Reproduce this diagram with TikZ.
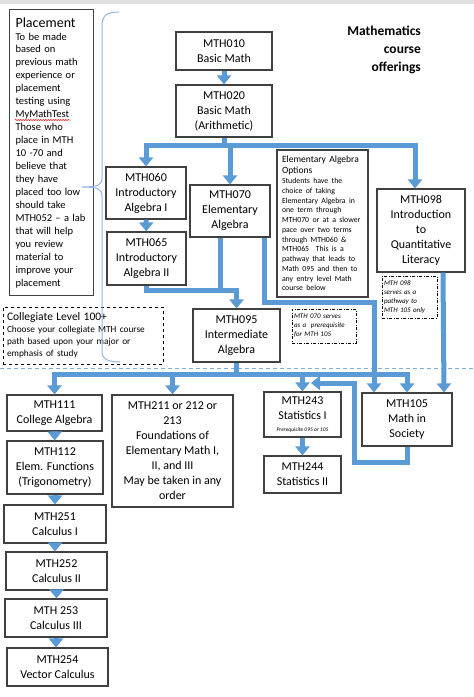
\documentclass[tikz,border=0pt]{standalone}
\usepackage{fontspec}
\setmainfont{Carlito}
\usetikzlibrary{arrows.meta,decorations.pathmorphing}
\definecolor{flowblue}{HTML}{5B9BD5}
\definecolor{boxgray}{HTML}{404040}
\definecolor{bracecol}{HTML}{8EB4E3}
\begin{document}
\begin{tikzpicture}[x=1pt,y=-1pt,
  box/.style={draw=boxgray, line width=1.1pt, fill=white, align=center, inner sep=1pt, font=\fontsize{12}{15}\selectfont},
  leftbox/.style={draw=boxgray, line width=1.1pt, fill=white, align=left, inner sep=3pt},
  notebox/.style={draw=black, line width=0.6pt, dash pattern=on 3pt off 1.5pt on 1pt off 1.5pt, align=left, inner sep=2pt, font=\itshape\fontsize{7}{9}\selectfont},
  flowline/.style={draw=flowblue, line width=5pt},
  arr/.style={draw=flowblue, line width=5pt, -{Triangle[width=14pt,length=9pt]}},
  bracestyle/.style={draw=bracecol, line width=1pt}
]
\useasboundingbox (0,0) rectangle (474,697);
\fill[white] (0,0) rectangle (474,697);
\fill[gray!25] (0,0) rectangle (474,4);

% title
\node[anchor=north east, align=right, inner sep=0pt, font=\bfseries\fontsize{13.5}{18}\selectfont] (title) at (421,26) {Mathematics\\course\\offerings};

% placement
\node[leftbox, inner xsep=6pt, text width=72pt, minimum height=286pt, anchor=north west] (place) at (9,9) {%
{\fontsize{14}{15}\selectfont Placement\par}%
{\fontsize{10.5}{12.95}\selectfont To be made\\based on\\previous math\\experience or\\placement\\testing using\\MyMathTest\\Those who\\place in MTH\\10 -70 and\\believe that\\they have\\placed too low\\should take\\MTH052 – a lab\\that will help\\you review\\material to\\improve your\\placement\par}};

% collegiate
\node[draw=black, line width=0.8pt, dashed, align=left, inner sep=3pt, inner xsep=4pt, text width=152pt, minimum height=57pt] (coll) at (83,335.5) {%
{\fontsize{11.5}{14}\selectfont Collegiate Level 100+\par}%
{\fontsize{9.3}{12}\selectfont Choose your collegiate MTH course\\path based upon your major or\\emphasis of study\par}};

% separator
\draw[flowblue!80, line width=0.7pt, dash pattern=on 4pt off 3pt] (0,368) -- (474,368);

% course boxes
\node[box, minimum width=96pt, minimum height=38pt] (m010) at (224,51) {MTH010\\Basic Math};
\node[box, minimum width=96pt, minimum height=52pt] (m020) at (224,111) {MTH020\\Basic Math\\(Arithmetic)};
\node[box, minimum width=80pt, minimum height=52pt] (m060) at (146,193) {MTH060\\Introductory\\Algebra I};
\node[box, minimum width=79pt, minimum height=53pt] (m065) at (146.5,258.5) {MTH065\\Introductory\\Algebra II};
\node[box, minimum width=80pt, minimum height=52pt] (m070) at (230,211) {MTH070\\Elementary\\Algebra};
\node[leftbox, inner xsep=5pt, text width=81pt, minimum height=147pt] (eao) at (322.5,223.5) {%
{\fontsize{9.5}{11}\selectfont Elementary Algebra\\Options\par}%
{\fontsize{7.8}{9.75}\selectfont Students have the\\choice of taking\\Elementary Algebra in\\one term through\\MTH070 or at a slower\\pace over two terms\\through MTH060 \&\\MTH065~ This is a\\pathway that leads to\\Math 095 and then to\\any entry level Math\\course below\par}};
\node[box, minimum width=88pt, minimum height=83pt] (m098) at (421,230.5) {MTH098\\Introduction\\to\\Quantitative\\Literacy};
\node[notebox, text width=51pt, minimum height=42pt] (n098) at (409.5,297) {MTH 098\\serves as a\\pathway to\\MTH 105 only};
\node[notebox, text width=60pt, minimum height=34pt] (n070) at (324,326) {MTH 070 serves\\as a~ prerequisite\\for MTH 105};
\node[box, minimum width=87pt, minimum height=53pt] (m095) at (236.5,335.5) {MTH095\\Intermediate\\Algebra};

\node[box, minimum width=95pt, minimum height=36pt] (m111) at (54.5,413) {MTH111\\College Algebra};
\node[box, minimum width=96pt, minimum height=53pt] (m112) at (55,467.5) {MTH112\\Elem. Functions\\(Trigonometry)};
\node[box, minimum width=121pt, minimum height=112pt] (m211) at (172.5,451) {MTH211 or 212 or\\213\\Foundations of\\Elementary Math I,\\II, and III\\May be taken in any\\order};
\node[box, minimum width=77pt, minimum height=45pt] (m243) at (302.5,414.5) {MTH243\\Statistics I\\[-3pt]{\fontsize{5.5}{7}\selectfont\itshape Prerequisite 095 or 105}};
\node[box, minimum width=77pt, minimum height=37pt] (m244) at (302.5,474.5) {MTH244\\Statistics II};
\node[box, minimum width=90pt, minimum height=53pt] (m105) at (407,419.5) {MTH105\\Math in\\Society};
\node[box, minimum width=102pt, minimum height=38pt] (m251) at (55,524) {MTH251\\Calculus I};
\node[box, minimum width=101pt, minimum height=38pt] (m252) at (56.5,571) {MTH252\\Calculus II};
\node[box, minimum width=102pt, minimum height=38pt] (m253) at (56,618) {MTH 253\\Calculus III};
\node[box, minimum width=101pt, minimum height=38pt] (m254) at (57.5,667) {MTH254\\Vector Calculus};

% junction coordinates
\coordinate (j1) at (224,145);
\coordinate (j2) at (0,290);
\coordinate (j3) at (0,302);
\coordinate (j4) at (0,374);
\coordinate (j5) at (354,462);
\coordinate (j6) at (311,383);

% connectors
\draw[arr] (m010) -- (m020);
\draw[arr] (m020.south) -- (j1) -| (m060.north);
\draw[arr] (j1) -| ([xshift=-6pt]m098.north);
\draw[arr] (j1 -| m070.north) -- (m070.north);
\draw[arr] (m060) -- (m065);
\draw[arr] (m065.south) |- (m095.north |- j2) -- (m095.north);
\draw[flowline] ([xshift=-10pt]m070.south) -- ([xshift=-10pt]m070.south |- j2);
\draw[arr] ([xshift=34pt]m070.south) |- ([xshift=-33pt]m105.north |- j3) -- ([xshift=-33pt]m105.north);
\draw[arr] ([xshift=22pt]m098.south) -- ([xshift=37pt]m105.north);
\draw[arr] (m095.south) |- (m111.north |- j4) -- (m111.north);
\draw[arr] (m095.south) |- (m105.north |- j4) -- (m105.north);
\draw[arr] (m211.north |- j4) -- (m211.north);
\draw[arr] (m243.north |- j4) -- (m243.north);
\draw[arr] (m105.south) |- (j5) |- (j6);
\draw[arr] (m243) -- (m244);
\draw[arr] (m111) -- (m112);
\draw[arr] (m112.south) -- (m112.south |- m251.north);
\draw[arr] (m251.south) -- (m251.south |- m252.north);
\draw[arr] (m252.south) -- (m252.south |- m253.north);
\draw[arr] (m253.south) -- (m253.south |- m254.north);

% brace
\draw[bracestyle] (119,12) .. controls (106,12) and (102,16) .. (102,26) -- (102,178)
  .. controls (102,185) and (98,187) .. (82,187)
  .. controls (98,187) and (102,189) .. (102,196) -- (102,352)
  .. controls (102,359) and (108,362) .. (120,362);

% spell-check squiggle
\draw[red, line width=0.5pt, decorate, decoration={snake, amplitude=0.6pt, segment length=2.5pt}] (15,120) -- (70,120);
\end{tikzpicture}
\end{document}
